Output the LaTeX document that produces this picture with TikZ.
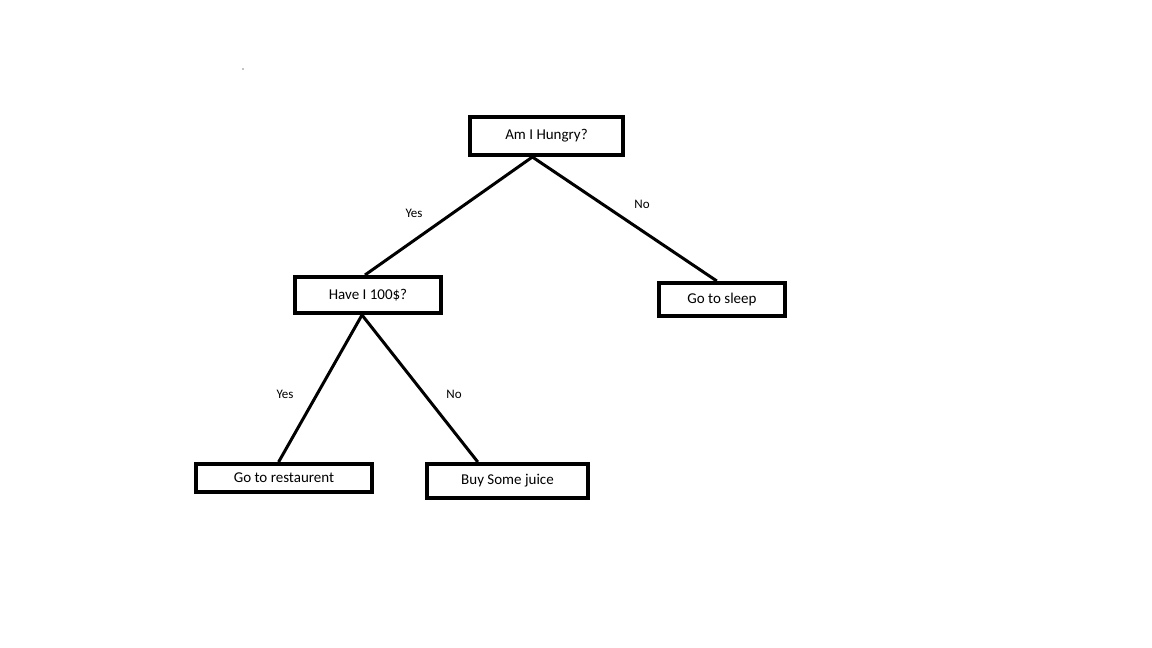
\documentclass[tikz,border=0pt]{standalone}
\usepackage{fontspec}
\setmainfont{Carlito}
\usetikzlibrary{calc}
\begin{document}
\begin{tikzpicture}[x=1pt,y=-1pt,
  box/.style={draw,line width=4pt,inner sep=0pt,font=\fontsize{15}{18}\selectfont},
  lbl/.style={font=\fontsize{13}{16}\selectfont},
  edge/.style={line width=3pt}]
\useasboundingbox[fill=white] (0,0) rectangle (1152,648);
\fill (243,69) circle (0.6);
\node[box,minimum width=153,minimum height=38] (h) at (546.5,136) {Am I Hungry?};
\node[box,minimum width=146,minimum height=36] (m) at (368,295) {Have I 100\$?};
\node[box,minimum width=126,minimum height=33] (s) at (722,299.5) {Go to sleep};
\node[box,minimum width=176,minimum height=28] (r) at (284,478) {Go to restaurent};
\node[box,minimum width=161,minimum height=34] (j) at (507.5,481) {Buy Some juice};
\draw[edge] ($(h.south west)!0.41!(h.south east)$) -- ($(m.north west)!0.48!(m.north east)$);
\draw[edge] ($(h.south west)!0.41!(h.south east)$) -- ($(s.north west)!0.46!(s.north east)$);
\draw[edge] ($(m.south west)!0.46!(m.south east)$) -- ($(r.north west)!0.47!(r.north east)$);
\draw[edge] ($(m.south west)!0.46!(m.south east)$) -- ($(j.north west)!0.32!(j.north east)$);
\node[lbl] (y1) at (414,213) {Yes};
\node[lbl] (n1) at (642,204) {No};
\node[lbl] (y2) at (285,394) {Yes};
\node[lbl] (n2) at (454,394) {No};
\end{tikzpicture}
\end{document}
